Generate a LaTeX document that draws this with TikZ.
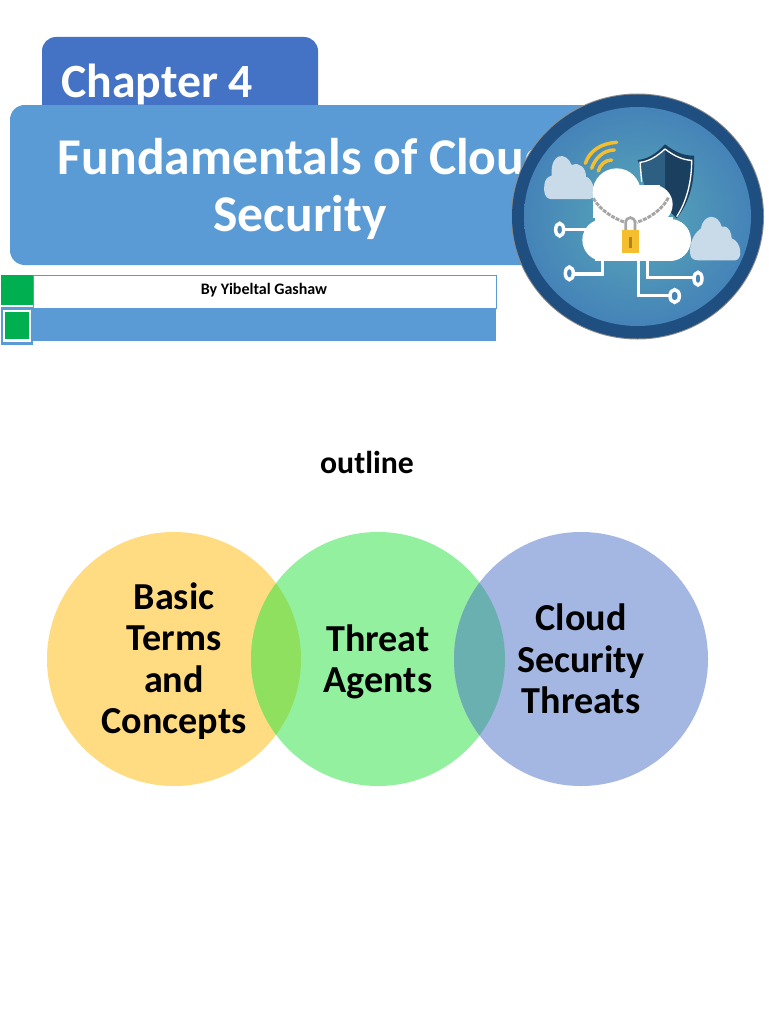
\documentclass[tikz,border=0pt]{standalone}
\usepackage{fontspec}
\setmainfont{Carlito}
\definecolor{tabblue}{HTML}{4472C4}
\definecolor{barblue}{HTML}{5B9BD5}
\definecolor{ringblue}{HTML}{1F4E80}
\definecolor{yellowc}{HTML}{FFDB82}
\definecolor{greenc}{HTML}{92F09F}
\definecolor{bluec}{HTML}{A3B7E2}
\definecolor{yg}{HTML}{90E060}
\definecolor{gb}{HTML}{6BB0B0}
\definecolor{squaregreen}{HTML}{00B050}
\definecolor{paleblue}{HTML}{C9DAE8}
\definecolor{goldc}{HTML}{F5BE2E}
\definecolor{discin}{HTML}{58A9B8}
\definecolor{discout}{HTML}{4583B8}
\definecolor{shieldd}{HTML}{1A3F5F}
\definecolor{shieldl}{HTML}{2C5F82}
\tikzset{
  x=0.75pt,y=-0.75pt,
  white title/.style={text=white,font=\fontsize{38.7pt}{43pt}\selectfont\bfseries,inner sep=0pt,align=center},
  venn label/.style={text=black,font=\fontsize{28.6pt}{31pt}\selectfont\bfseries,inner sep=0pt,align=center},
  pale cloud/.style={fill=paleblue,draw=none},
  white cloud/.style={fill=white,draw=none},
  wire/.style={draw=white,line width=2.4pt},
  pin/.style={draw=white,line width=2.6pt,fill=discout},
  wifi/.style={draw=goldc,line width=2.6pt,line cap=round},
  chainl/.style={draw=gray!70,line width=2.2pt,dash pattern=on 3pt off 0.8pt}
}
\begin{document}
\begin{tikzpicture}
\useasboundingbox (0,0) rectangle (768,1024);
\fill[white] (0,0) rectangle (768,1024);
% chapter tab
\fill[tabblue,rounded corners=10.5pt] (42,37) rectangle (318,130);
\node[white title,font=\fontsize{35.8pt}{41pt}\selectfont\bfseries,anchor=base west] (chapter) at (61,98) {Chapter 4};
% title bar
\fill[barblue,rounded corners=11pt] (10,105) rectangle (600,265);
\node[white title,anchor=base] (title1) at (305,174) {Fundamentals of Cloud};
\node[white title,anchor=base] (title2) at (300,231) {Security};
% table
\draw[barblue,fill=white,line width=0.7pt] (33,275) rectangle (496,308);
\fill[barblue] (33,308) rectangle (496,341);
\node[font=\fontsize{12pt}{14pt}\selectfont\bfseries,inner sep=0pt,anchor=base] (by) at (264,294.5) {By Yibeltal Gashaw};
\fill[squaregreen] (1,275) rectangle (33,305);
\fill[barblue] (1,307) rectangle (33,345);
\fill[white] (3,310) rectangle (31,342);
\fill[squaregreen] (5,312) rectangle (29,339);
% badge
\fill[black!45] (637.5,216.5) ellipse (126.5 and 123);
\fill[ringblue] (637.5,216.5) ellipse (125.5 and 122);
\shade[inner color=discin,outer color=discout] (637.5,216.5) ellipse (113.5 and 109.5);
\begin{scope}[shift={(500,85)},x=0.25pt,y=-0.25pt]
  % shield
  \fill[shieldd] (495,178) .. controls (530,205) and (555,212) .. (582,212) .. controls (585,290) and (570,350) .. (530,400) -- (450,320) -- (413,225) .. controls (445,222) and (470,205) .. (495,178) -- cycle;
  \fill[shieldl] (495,195) .. controls (470,220) and (445,232) .. (422,235) .. controls (425,270) and (428,290) .. (440,320) -- (495,380) -- cycle;
  \draw[white,line width=1pt] (495,192) .. controls (525,215) and (550,225) .. (575,226) .. controls (575,290) and (560,350) .. (530,395);
  \draw[white,line width=1pt] (495,192) .. controls (470,215) and (445,230) .. (420,232) -- (425,290);
  % pale clouds
  \fill[pale cloud] (133,300) .. controls (135,280) and (145,275) .. (155,272) .. controls (150,200) and (200,200) .. (215,240) .. controls (240,230) and (258,250) .. (258,275) .. controls (280,280) and (295,340) .. (270,342) -- (150,342) .. controls (135,340) and (130,320) .. (133,300) -- cycle;
  \fill[pale cloud] (570,500) .. controls (570,460) and (590,440) .. (603,430) .. controls (610,385) and (655,385) .. (665,425) .. controls (690,420) and (695,450) .. (695,460) .. controls (725,470) and (730,525) .. (705,526) -- (595,526) .. controls (575,526) and (570,515) .. (570,500) -- cycle;
  % wires
  \draw[wire] (195,433) -- (260,433);
  \draw[wire] (225,567) -- (307,567) -- (307,520);
  \draw[wire] (415,520) -- (415,632) -- (510,632);
  \draw[wire] (442,520) -- (442,577) -- (578,577);
  \draw[pin] (179,434) ellipse (12 and 19);
  \draw[pin] (208,565) ellipse (12 and 19);
  \draw[pin] (524,633) ellipse (14 and 19);
  \draw[pin] (594,581) ellipse (12 and 19);
  % wifi
  \draw[wifi] (256,235) .. controls (270,195) and (305,175) .. (350,172);
  \draw[wifi] (275,250) .. controls (285,220) and (310,195) .. (343,195);
  \draw[wifi] (295,258) .. controls (300,240) and (315,225) .. (335,225);
  % main cloud
  \fill[white cloud] (350,322) circle (72);
  \fill[white cloud] (460,358) circle (58);
  \fill[white cloud] (310,465) circle (63);
  \fill[white cloud] (510,465) circle (63);
  \fill[white cloud] (285,395) rectangle (520,528);
  \fill[white cloud] (400,300) rectangle (480,400);
  \fill[white cloud] (280,320) rectangle (400,400);
  % chain
  \draw[chainl] (280,340) .. controls (300,375) and (340,400) .. (375,412);
  \draw[chainl] (505,338) .. controls (490,370) and (450,400) .. (410,412);
  % padlock
  \draw[gray!70,line width=2pt] (377,440) -- (377,415) .. controls (377,392) and (405,392) .. (405,415) -- (405,440);
  \fill[goldc] (367,436) rectangle (416,505);
  \fill[goldc!70!black] (388,455) rectangle (396,490);
\end{scope}
% venn
\fill[yellowc] (174,659) circle (127);
\fill[greenc] (378,659) circle (127);
\fill[bluec] (581,659) circle (127);
\begin{scope}
  \clip (174,659) circle (127);
  \fill[yg] (378,659) circle (127);
\end{scope}
\begin{scope}
  \clip (378,659) circle (127);
  \fill[gb] (581,659) circle (127);
\end{scope}
\node[font=\fontsize{23.8pt}{27pt}\selectfont\bfseries,inner sep=0pt,anchor=base] (outline) at (367,473) {outline};
\node[venn label,anchor=center] (basic) at (174,661) {Basic\\Terms\\and\\Concepts};
\node[venn label] (threat) at (378,662) {Threat\\Agents};
\node[venn label] (cloud) at (581,659) {Cloud\\Security\\Threats};
\end{tikzpicture}
\end{document}
